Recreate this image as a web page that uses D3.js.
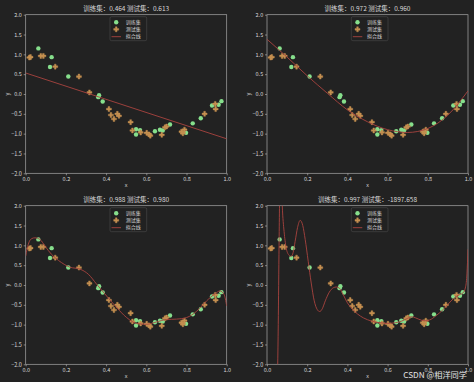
<!DOCTYPE html>
<meta charset="utf-8">
<title>多项式拟合</title>
<style>
  html, body { margin: 0; padding: 0; background: #222222; }
  svg { display: block; }
  text { font-family: "Noto Sans CJK SC", "DejaVu Sans", sans-serif; }
</style>
<body>
<script src="https://d3js.org/d3.v7.min.js"></script>
<script>

// training set (green)
var trainX = [0.063, 0.121, 0.129, 0.212, 0.361, 0.365, 0.383, 0.549, 0.549, 0.569,
              0.643, 0.668, 0.682, 0.718, 0.798, 0.831, 0.871, 0.927, 0.960, 0.974];
var trainY = [1.15, 0.68, 0.93, 0.44, -0.08, -0.03, -0.19, -0.89, -1.02, -0.91,
              -0.94, -0.90, -0.92, -0.77, -0.98, -0.74, -0.61, -0.29, -0.27, -0.18];

// test set (orange)
var testX = [0.018, 0.024, 0.075, 0.088, 0.147, 0.265, 0.317, 0.414, 0.424, 0.439,
             0.456, 0.464, 0.522, 0.531, 0.572, 0.602, 0.614, 0.620, 0.677, 0.693,
             0.701, 0.775, 0.782, 0.790, 0.890, 0.943, 0.945];
var testY = [0.92, 0.93, 0.96, 0.96, 0.69, 0.44, 0.04, -0.38, -0.53, -0.63,
             -0.50, -0.55, -0.71, -0.92, -0.97, -0.98, -1.02, -1.05, -1.03, -0.84,
             -0.82, -0.95, -0.99, -0.90, -0.50, -0.25, -0.38];

// fitted curves
var fit1X = [0, 1];
var fit1Y = [0.53, -1.13];

var fit2X = [0, 0.1, 0.2, 0.3, 0.4, 0.5, 0.6, 0.7, 0.8, 0.9, 1.0];
var fit2Y = [1.38, 0.93, 0.46, 0.02, -0.40, -0.70, -0.90, -0.97, -0.87, -0.53, 0.08];

var fit3X = [0, 0.013, 0.03, 0.046, 0.071, 0.096, 0.129, 0.163, 0.22, 0.27, 0.312, 0.353,
             0.403, 0.453, 0.502, 0.552, 0.602, 0.652, 0.701, 0.751, 0.801, 0.851,
             0.9, 0.942, 0.967, 0.987, 1.0];
var fit3Y = [0.73, 1.03, 1.17, 1.19, 1.15, 0.98, 0.77, 0.62, 0.45, 0.40, 0.27, 0.02,
             -0.28, -0.57, -0.82, -0.97, -0.99, -0.93, -0.87, -0.86, -0.82, -0.66,
             -0.40, -0.22, -0.15, -0.24, -0.53];

var fit4X = [0.040, 0.050, 0.056, 0.060, 0.064, 0.068, 0.072, 0.076, 0.085, 0.095, 0.108,
             0.120, 0.130, 0.140, 0.152, 0.165, 0.178, 0.190, 0.205, 0.220, 0.235, 0.250,
             0.262, 0.275, 0.290, 0.310, 0.330, 0.345, 0.360, 0.380, 0.400, 0.420, 0.450,
             0.480, 0.520, 0.560, 0.600, 0.640, 0.670, 0.700, 0.720, 0.740, 0.770, 0.790,
             0.810, 0.840, 0.880, 0.920, 0.950, 0.975, 0.988, 0.995, 1.0];
var fit4Y = [-6, -3, -1, 1, 2.6, 3.0, 2.6, 2.0, 1.35, 0.95, 0.76,
             0.72, 0.82, 1.1, 1.45, 1.63, 1.5, 1.15, 0.6, 0.05, -0.4, -0.62,
             -0.67, -0.6, -0.4, -0.18, -0.07, -0.05, -0.08, -0.25, -0.45, -0.58, -0.73,
             -0.83, -0.91, -0.95, -0.97, -0.95, -0.91, -0.84, -0.80, -0.83, -0.89, -0.90,
             -0.88, -0.78, -0.60, -0.38, -0.26, -0.20, -0.05, 0.3, 0.9];

var titles = ["训练集：0.464 测试集：0.613", "训练集：0.972 测试集：0.960",
              "训练集：0.988 测试集：0.980", "训练集：0.997 测试集：-1897.658"];
var legendLabels = ["训练集", "测试集", "拟合线"];
var xTicks = [0, 0.2, 0.4, 0.6, 0.8, 1.0];
var yTicks = [-2, -1.5, -1, -0.5, 0, 0.5, 1, 1.5, 2];

var W = 474, H = 382;
var pw = 201, ph = 158.6;
var bg = "#222222", spine = "#a8a8a8", txt = "#d8d8d8";
var green = "#86df8c", orange = "#c48f50", red = "#a9443f";

var panels = [
  {left: 25.7, top: 14.7, fx: fit1X, fy: fit1Y},
  {left: 267,  top: 14.7, fx: fit2X, fy: fit2Y},
  {left: 25.7, top: 205.7, fx: fit3X, fy: fit3Y},
  {left: 267,  top: 205.7, fx: fit4X, fy: fit4Y}
];

var svg = d3.select("body").append("svg")
    .attr("width", W)
    .attr("height", H);

svg.append("rect").attr("width", W).attr("height", H).attr("fill", bg);

var train = trainX.map(function(d, i) { return [d, trainY[i]]; });
var test = testX.map(function(d, i) { return [d, testY[i]]; });
var plus = d3.symbol().type(d3.symbolCross).size(14);

panels.forEach(function(p, i) {
  var x = d3.scaleLinear().domain([0, 1]).range([0, pw]);
  var y = d3.scaleLinear().domain([-2, 2]).range([ph, 0]);

  var g = svg.append("g")
      .attr("transform", "translate(" + p.left + "," + p.top + ")");

  g.append("clipPath").attr("id", "clip" + i)
    .append("rect").attr("width", pw).attr("height", ph);

  // axes
  var xa = g.append("g")
      .attr("transform", "translate(0," + ph + ")")
      .call(d3.axisBottom(x).tickValues(xTicks).tickFormat(d3.format(".1f"))
            .tickSize(2).tickPadding(1.5));
  var ya = g.append("g")
      .call(d3.axisLeft(y).tickValues(yTicks).tickFormat(d3.format(".1f"))
            .tickSize(2).tickPadding(1.8));
  [xa, ya].forEach(function(a) {
    a.select(".domain").remove();
    a.selectAll("line").attr("stroke", spine).attr("stroke-width", 0.7);
    a.selectAll("text").attr("fill", txt).style("font-size", "5.5px");
  });

  g.append("rect")
      .attr("width", pw).attr("height", ph)
      .attr("fill", "none")
      .attr("stroke", spine)
      .attr("stroke-width", 0.7);

  // titles and axis labels
  g.append("text")
      .attr("x", pw / 2).attr("y", -4.2)
      .attr("text-anchor", "middle")
      .attr("fill", txt)
      .style("font-size", "6.5px")
      .text(titles[i]);
  g.append("text")
      .attr("x", pw / 2).attr("y", ph + 14)
      .attr("text-anchor", "middle")
      .attr("fill", txt)
      .style("font-size", "5.5px")
      .text("x");
  g.append("text")
      .attr("transform", "translate(-17," + (ph / 2) + ") rotate(-90)")
      .attr("text-anchor", "middle")
      .attr("fill", txt)
      .style("font-size", "5.5px")
      .text("y");

  // points
  var plot = g.append("g").attr("clip-path", "url(#clip" + i + ")");
  plot.selectAll(".tr").data(train).enter().append("circle")
      .attr("class", "tr")
      .attr("cx", function(d) { return x(d[0]); })
      .attr("cy", function(d) { return y(d[1]); })
      .attr("r", 2.2)
      .attr("fill", green);
  plot.selectAll(".te").data(test).enter().append("path")
      .attr("class", "te")
      .attr("d", plus)
      .attr("transform", function(d) { return "translate(" + x(d[0]) + "," + y(d[1]) + ")"; })
      .attr("fill", orange)
      .attr("stroke", orange)
      .attr("stroke-width", 0.4)
      .attr("stroke-linejoin", "round");

  // fitted line
  var fit = p.fx.map(function(d, k) { return [d, p.fy[k]]; });
  plot.append("path")
      .datum(fit)
      .attr("fill", "none")
      .attr("stroke", red)
      .attr("stroke-width", 0.9)
      .attr("d", d3.line()
          .x(function(d) { return x(d[0]); })
          .y(function(d) { return y(d[1]); })
          .curve(d3.curveMonotoneX));

  // legend
  var lg = g.append("g").attr("transform", "translate(84.3,2)");
  lg.append("rect")
      .attr("width", 36.7).attr("height", 24).attr("rx", 1.5)
      .attr("fill", bg).attr("fill-opacity", 0.8)
      .attr("stroke", "#555").attr("stroke-width", 0.5);
  lg.append("circle").attr("cx", 6.2).attr("cy", 5.6).attr("r", 2.2).attr("fill", green);
  lg.append("path").attr("d", plus).attr("transform", "translate(6.2,12.6)")
      .attr("fill", orange).attr("stroke", orange).attr("stroke-width", 0.4);
  lg.append("line").attr("x1", 1.5).attr("x2", 11).attr("y1", 20).attr("y2", 20)
      .attr("stroke", red).attr("stroke-width", 0.9);
  lg.selectAll(".lt").data(legendLabels).enter().append("text")
      .attr("x", 15.8)
      .attr("y", function(d, k) { return 7.4 + k * 7.2; })
      .attr("fill", txt)
      .style("font-size", "5px")
      .text(function(d) { return d; });
});

// watermark (sits over the last panel's tick labels, as in the original)
svg.append("text")
    .attr("x", 467).attr("y", 377.5)
    .attr("text-anchor", "end")
    .attr("fill", "#e4e4e4")
    .style("font-size", "8.2px")
    .text("CSDN @相洋同学");

</script>
</body>
